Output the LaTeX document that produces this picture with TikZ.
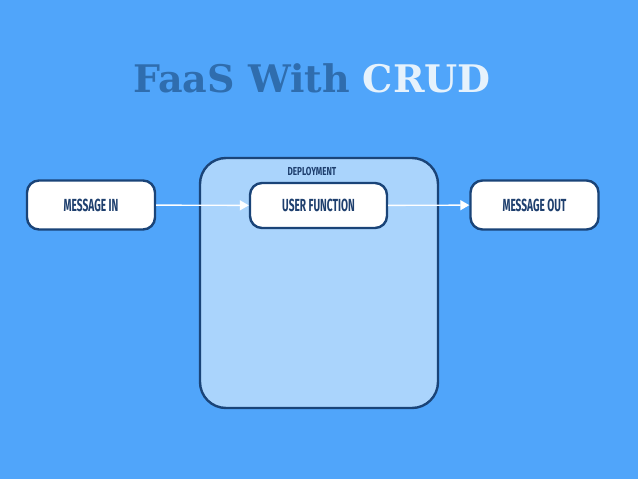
\documentclass[tikz,border=0pt]{standalone}
\usepackage{fontspec}
\newfontfamily\titlefont{DejaVu Serif}
\newfontfamily\boxfont[FakeStretch=0.58]{Fira Sans}
\newfontfamily\smallboxfont[FakeStretch=0.7]{Fira Sans}
\usetikzlibrary{positioning,arrows.meta}

\definecolor{bgblue}{HTML}{50A5FA}
\definecolor{deployfill}{HTML}{AAD4FC}
\definecolor{edgeblue}{HTML}{1A4478}
\definecolor{textblue}{HTML}{1E3F6E}
\definecolor{titledark}{HTML}{2F6DAE}
\definecolor{titlelight}{HTML}{E6F2FC}

\tikzset{
  msgbox/.style={draw=edgeblue, fill=white, line width=2.4pt, rounded corners=12pt,
    minimum width=128pt, minimum height=49pt, text=textblue,
    font=\boxfont\bfseries\fontsize{17.5}{17.5}\selectfont},
  deploybox/.style={draw=edgeblue, fill=deployfill, line width=2.4pt, rounded corners=26pt,
    minimum width=238pt, minimum height=250pt},
  flow/.style={white, line width=1.4pt, -{Triangle[length=9pt,width=10pt]}}
}

\begin{document}
\begin{tikzpicture}[x=1pt,y=-1pt]
  \fill[bgblue] (0,0) rectangle (638,479);
  \useasboundingbox (0,0) rectangle (638,479);

  \node[font=\titlefont\bfseries\fontsize{38}{38}\selectfont] (title) at (312,78)
    {{\color{titledark}FaaS With} {\color{titlelight}CRUD}};

  \node[deploybox] (deploy) at (319,283) {};
  \node[text=textblue, font=\smallboxfont\bfseries\fontsize{11.6}{11.6}\selectfont] (deploylabel) at (312,171) {DEPLOYMENT};

  \node[msgbox] (msgin) at (91,205) {MESSAGE IN};
  \node[msgbox, minimum width=137pt, minimum height=45pt] (userfn) at (318.5,205.5) {USER FUNCTION};
  \node[msgbox] (msgout) at (534.5,205) {MESSAGE OUT};

  \draw[flow] (msgin) -- (userfn);
  \draw[flow] (userfn) -- (msgout);
\end{tikzpicture}
\end{document}
